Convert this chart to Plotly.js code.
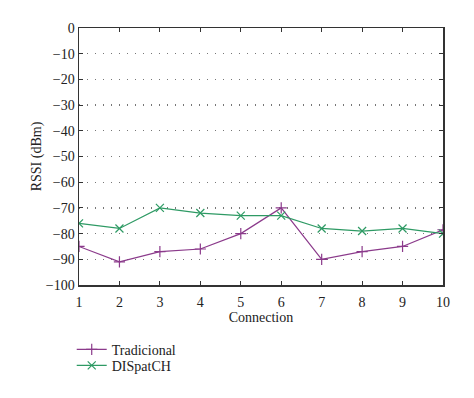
<!DOCTYPE html>
<html><head><meta charset="utf-8">
<script src="https://cdn.plot.ly/plotly-3.0.1.min.js"></script>
<style>html,body{margin:0;padding:0;background:#fff}</style>
</head><body>
<div id="chart" style="width:474px;height:398px"></div>
<script>
const connections = [1,2,3,4,5,6,7,8,9,10];
const tradicional = [-85,-91,-87,-86,-80,-70,-90,-87,-85,-78.5];
const dispatch = [-76,-78,-70,-72,-73,-73,-78,-79,-78,-80];
const yTicks = [0,-10,-20,-30,-40,-50,-60,-70,-80,-90,-100];
const yTickText = ['0','\u221210','\u221220','\u221230','\u221240','\u221250','\u221260','\u221270','\u221280','\u221290','\u2212100'];

const font = {family:'"Liberation Serif", "DejaVu Serif", serif', size:14, color:'#222'};
const traces = [
  {x:connections, y:tradicional, name:'Tradicional', mode:'lines+markers', legend:'legend',
   line:{color:'#8b3a8b', width:1.2}, marker:{symbol:'cross-thin-open', size:8, line:{color:'#8b3a8b', width:1.2}}},
  {x:connections, y:dispatch, name:'DISpatCH', mode:'lines+markers', legend:'legend2',
   line:{color:'#2e9a64', width:1.2}, marker:{symbol:'x-thin-open', size:8, line:{color:'#2e9a64', width:1.2}}}
];
const legendBase = {x:-0.02, xanchor:'left', yanchor:'top', font:font, bgcolor:'rgba(0,0,0,0)', itemwidth:30};
const layout = {
  width:474, height:398,
  margin:{l:79, r:31, t:28, b:113, autoexpand:false},
  paper_bgcolor:'#fff', plot_bgcolor:'#fff',
  font:font,
  showlegend:true,
  legend:Object.assign({}, legendBase, {y:-0.19}),
  legend2:Object.assign({}, legendBase, {y:-0.252}),
  xaxis:{range:[1,10], tickvals:connections, showline:true, linecolor:'#333', linewidth:1.5, mirror:'ticks',
         ticks:'inside', ticklen:4, tickcolor:'#333', showgrid:false, zeroline:false, ticklabelstandoff:4,
         title:{text:'Connection', font:font, standoff:3}},
  yaxis:{range:[-100,0], tickvals:yTicks, ticktext:yTickText, showline:true, linecolor:'#333', linewidth:1.5, mirror:'ticks',
         ticks:'inside', ticklen:4, tickcolor:'#333', showgrid:true, gridcolor:'#777', griddash:'1px,7px', gridwidth:1.3, zeroline:false,
         title:{text:'RSSI (dBm)', font:font}}
};
Plotly.newPlot('chart', traces, layout, {displayModeBar:false, staticPlot:true});
</script>
</body></html>
